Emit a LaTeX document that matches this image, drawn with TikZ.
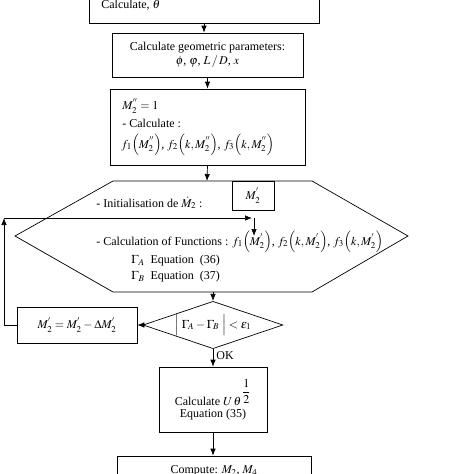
\documentclass[tikz,border=0pt]{standalone}
\usepackage{mathptmx}
\usepackage{amsmath}
\usepackage{fontspec}
\setmainfont{Liberation Serif}
\usetikzlibrary{shapes.geometric,arrows.meta}
\begin{document}
\begin{tikzpicture}[x=1pt, y=-1pt, line width=0.7pt, >={Latex[length=7pt,width=5.5pt]},
    box/.style={draw, rectangle, inner sep=0pt, align=center},
    txt/.style={inner sep=0pt, anchor=west, align=left},
    test/.style={draw, diamond, aspect=2.95, minimum width=130pt, minimum height=44pt, inner sep=0pt},
    every node/.style={font=\fontsize{12}{14}\selectfont}]
    \useasboundingbox (0,0) rectangle (474,474);
    \clip (0,0) rectangle (474,474);
    % boxes of the chain
    \node[box, minimum width=230pt, minimum height=60pt] (theta) at (204,-7) {};
    \node[txt] (thetatxt) at (101,5) {Calculate, $\theta$};
    \node[box, minimum width=191pt, minimum height=44pt] (geom) at (207.5,55)
        {Calculate geometric parameters:\\ $\phi$, $\varphi$, $L \,/\, D$, $x$};
    \node[box, minimum width=195pt, minimum height=76pt] (init) at (207.5,127) {};
    \node[txt] (initA) at (122,106) {$M_2^{''} = 1$};
    \node[txt] (initB) at (122,123) {- Calculate :};
    \node[txt] (initC) at (121,145) {$f_1\Big(M_2^{''}\Big)$, $f_2\Big(k, M_2^{''}\Big)$, $f_3\Big(k, M_2^{''}\Big)$};
    % hexagon
    \coordinate (hxw) at (15,236);
    \coordinate (hxe) at (408,236);
    \coordinate (hxn) at (207,181);
    \coordinate (hxs) at (213,292);
    \draw (hxw) -- (113,181) -- (312,181) -- (hxe) -- (312,292) -- (113,292) -- cycle;
    \node[box, minimum width=42pt, minimum height=29pt] (mbox) at (253,195.5) {$M_2^{'}$};
    \node[txt] (hxA) at (96,203) {- Initialisation de $\dot{M}_2$ :};
    \node[txt] (hxB) at (96,242) {- Calculation of Functions : $f_1\Big(M_2^{'}\Big)$, $f_2\Big(k, M_2^{'}\Big)$, $f_3\Big(k, M_2^{'}\Big)$};
    \node[txt] (hxC) at (131,261) {$\Gamma_A$\ \ Equation\ \ (36)};
    \node[txt] (hxD) at (131,277) {$\Gamma_B$\ \ Equation\ \ (37)};
    % test and loop
    \node[test] (test) at (213,325) {$\Big|\ \Gamma_{\!A} - \Gamma_{\!B}\ \Big| < \varepsilon_{1}$};
    \node[box, minimum width=120pt, minimum height=36pt] (upd) at (77,325) {$M_2^{'} = M_2^{'} - \Delta M_2^{'}$};
    \node[box, minimum width=108pt, minimum height=65pt] (calcU) at (213,399.5)
        {Calculate $U\,\theta^{\,\dfrac{1}{2}}$\\[-2pt] Equation (35)};
    \node[box, minimum width=194pt, minimum height=44pt] (comp) at (214,478) {};
    \node[inner sep=0pt] (comptxt) at (214,471) {Compute: $M_2$, $M_4$};
    \coordinate (lpA) at (4,218);
    \coordinate (lpB) at (252,218);
    \coordinate (lpC) at (254,236);
    % connectors
    \draw[->] (theta.south) -- (theta.south |- geom.north);
    \draw[->] (geom.south) -- (geom.south |- init.north);
    \draw[->] (init.south) -- (hxn);
    \draw[->] (hxs) -- (test.north);
    \draw[->] (test.west) -- (upd.east);
    \draw[->] (upd.west) -| (lpA);
    \draw[->] (lpA) -- (lpB);
    \draw[->] (lpC |- lpA) -- (lpC);
    \draw[->] (test.south) -- node[right, inner sep=3pt, pos=0.35] {OK} (calcU.north);
    \draw[->] (calcU.south) -- (calcU.south |- comp.north);
\end{tikzpicture}
\end{document}
